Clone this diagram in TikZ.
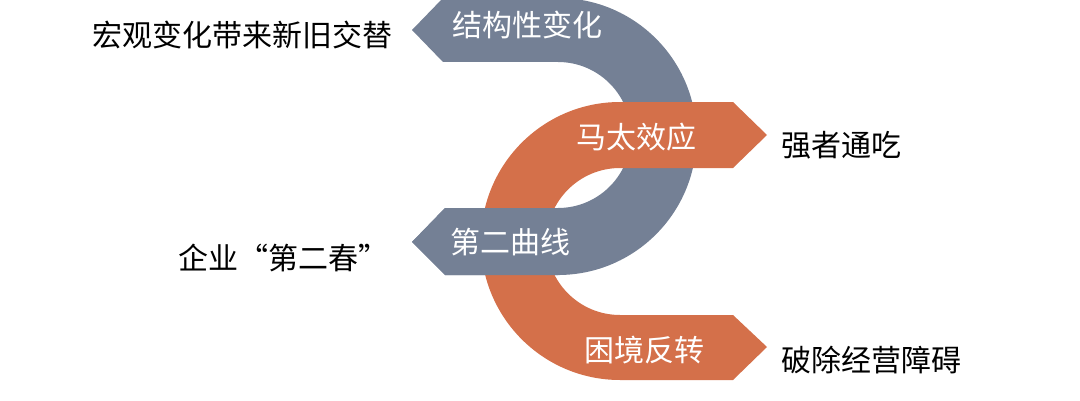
\documentclass[tikz,border=0pt]{standalone}
\usepackage{fontspec}
\setmainfont{Noto Sans CJK SC}
\definecolor{gr}{HTML}{748095}
\definecolor{og}{HTML}{D4704A}
\begin{document}
\begin{tikzpicture}[x=1pt,y=1pt,
 band/.style={text=white,font=\fontsize{30}{32}\selectfont},
 lab/.style={text=black,font=\fontsize{30}{32}\selectfont}]
\useasboundingbox (0,0) rectangle (1080,400);
\fill[gr] (412,370) -- (443,402) -- (558,402) arc[start angle=90,end angle=-90,radius=138.5]
  -- (445,125) -- (412,158) -- (445,192) -- (558,192) arc[start angle=-90,end angle=90,radius=73]
  -- (443,338) -- cycle;
\fill[og] (767,265) -- (733,298) -- (620,298) arc[start angle=90,end angle=270,radius=139]
  -- (733,20) -- (767,53) -- (733,85) -- (620,85) arc[start angle=270,end angle=90,radius=73.5]
  -- (733,232) -- cycle;
\fill[gr] (445,125) -- (412,158) -- (445,192) -- (560,192) -- (560,125) -- cycle;
\node[band] (b1) at (527,375) {结构性变化};
\node[band] (b2) at (636,263) {马太效应};
\node[band] (b3) at (510,158) {第二曲线};
\node[band] (b4) at (644,50) {困境反转};
\node[lab,anchor=east] (l1) at (396,365) {宏观变化带来新旧交替};
\node[lab,anchor=west] (l2) at (778,255) {强者通吃};
\node[lab,anchor=east] (l3) at (392,142) {企业“第二春”};
\node[lab,anchor=west] (l4) at (778,40) {破除经营障碍};
\end{tikzpicture}
\end{document}
